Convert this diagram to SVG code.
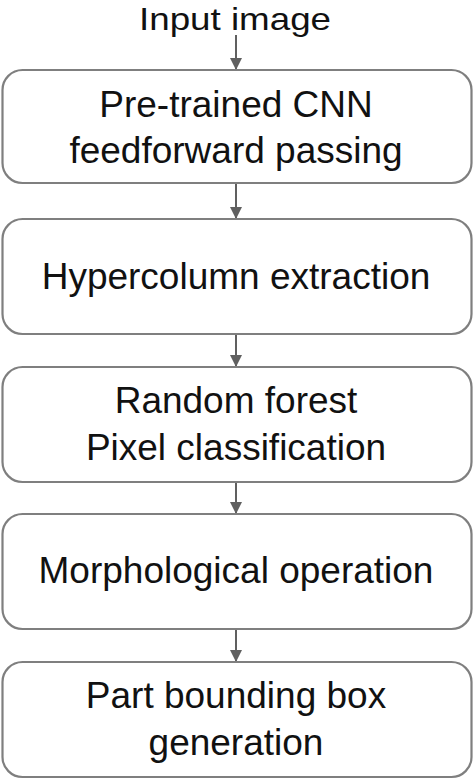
<svg xmlns="http://www.w3.org/2000/svg" width="474" height="779" viewBox="0 0 474 779">
<defs>
<style>
.box{fill:#fff;stroke:#7f7f7f;stroke-width:2.2}
.t{font-family:"Liberation Sans",Arial,sans-serif;font-size:37px;fill:#111;text-anchor:middle}
.c{stroke:#606060;stroke-width:2;fill:none;marker-end:url(#ah)}
</style>
<marker id="ah" markerWidth="12" markerHeight="12" refX="11" refY="6" orient="auto" markerUnits="userSpaceOnUse" viewBox="0 0 12 12">
<path d="M0,0 L12,6 L0,12 Z" fill="#606060"/>
</marker>
</defs>
<rect width="474" height="779" fill="#fff"/>
<g id="input"><text class="t" x="235" y="30" style="font-size:32px" textLength="192" lengthAdjust="spacingAndGlyphs">Input image</text></g>
<g id="connectors">
<line class="c" x1="236" y1="35" x2="236" y2="69"/>
<line class="c" x1="236" y1="184" x2="236" y2="218"/>
<line class="c" x1="236" y1="335" x2="236" y2="366"/>
<line class="c" x1="236" y1="483" x2="236" y2="513"/>
<line class="c" x1="236" y1="630" x2="236" y2="661"/>
</g>
<g id="n1"><rect class="box" x="2.5" y="70" width="469" height="113" rx="20"/>
<text class="t" x="236" y="117">Pre-trained CNN</text>
<text class="t" x="236" y="163">feedforward passing</text></g>
<g id="n2"><rect class="box" x="2.5" y="219" width="469" height="115" rx="20"/>
<text class="t" x="236" y="289">Hypercolumn extraction</text></g>
<g id="n3"><rect class="box" x="2.5" y="367" width="469" height="115" rx="20"/>
<text class="t" x="236" y="413">Random forest</text>
<text class="t" x="236" y="460">Pixel classification</text></g>
<g id="n4"><rect class="box" x="2.5" y="514" width="469" height="115" rx="20"/>
<text class="t" x="236" y="583">Morphological operation</text></g>
<g id="n5"><rect class="box" x="2.5" y="662" width="469" height="115" rx="20"/>
<text class="t" x="236" y="708">Part bounding box</text>
<text class="t" x="236" y="755">generation</text></g>
</svg>
